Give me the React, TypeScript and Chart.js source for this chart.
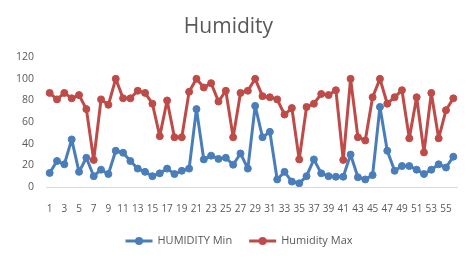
import React, { useEffect, useRef } from 'react';
import { Chart, registerables } from 'chart.js';

Chart.register(...registerables);

const categories = [
  '1', '2', '3', '4', '5', '6', '7', '8', '9', '10',
  '11', '12', '13', '14', '15', '16', '17', '18', '19', '20',
  '21', '22', '23', '24', '25', '26', '27', '28', '29', '30',
  '31', '32', '33', '34', '35', '36', '37', '38', '39', '40',
  '41', '42', '43', '44', '45', '46', '47', '48', '49', '50',
  '51', '52', '53', '54', '55', '56',
];

const humidityMin = [
  13, 24, 21, 44, 14, 27, 10, 16, 12, 33.5,
  31.7, 24, 17, 14, 10, 12.6, 17, 12, 15, 17,
  72, 25.5, 29, 26, 27, 20.6, 31, 17, 75, 46,
  51, 7, 14, 5, 3.4, 10, 25.5, 12.6, 10, 9.5,
  9.5, 30, 9, 7, 11, 74, 33.5, 15, 19.4, 19.4,
  16, 12, 16, 21, 18, 28,
];

const humidityMax = [
  87, 81, 87, 82, 85, 72, 25, 81, 76, 100,
  82, 82, 89, 87, 77, 47, 80, 46, 46, 88,
  100, 92, 96, 79, 89, 46, 87, 89, 100, 84,
  83, 81, 67, 73, 25.5, 74, 77, 86, 85, 89.5,
  25, 100, 46, 43, 83, 100, 77, 83, 89.5, 45,
  83, 32, 87, 45, 71, 82,
];

const seriesNames = ['HUMIDITY Min', 'Humidity Max'];
const chartTitle = 'Humidity';

const BLUE = '#4A7EBB';
const RED = '#BE4B48';
const TEXT = '#595959';
const FONT = '"Open Sans", "DejaVu Sans", sans-serif';

const legendPlugin = {
  id: 'excelLegend',
  afterDraw(chart: any) {
    const ctx = chart.ctx as CanvasRenderingContext2D;
    ctx.save();
    ctx.font = `11px ${FONT}`;
    const lineW = 27;
    const gap = 5;
    const pad = 17;
    const items = chart.data.datasets.map((ds: any) => ({
      text: ds.label as string,
      color: ds.borderColor as string,
    }));
    const widths = items.map((it: any) => lineW + gap + ctx.measureText(it.text).width);
    const total = widths.reduce((a: number, b: number) => a + b, 0) + pad * (items.length - 1);
    let x = (chart.width - total) / 2 + 2;
    const y = 241;
    items.forEach((it: any, i: number) => {
      ctx.strokeStyle = it.color;
      ctx.lineWidth = 3;
      ctx.beginPath();
      ctx.moveTo(x, y);
      ctx.lineTo(x + lineW, y);
      ctx.stroke();
      ctx.fillStyle = it.color;
      ctx.beginPath();
      ctx.arc(x + lineW / 2, y, 4, 0, Math.PI * 2);
      ctx.fill();
      ctx.fillStyle = TEXT;
      ctx.textBaseline = 'middle';
      ctx.textAlign = 'left';
      ctx.fillText(it.text, x + lineW + gap, y);
      x += widths[i] + pad;
    });
    ctx.restore();
  },
};

export default function App() {
  const canvasRef = useRef<HTMLCanvasElement | null>(null);

  useEffect(() => {
    if (!canvasRef.current) return;
    const chart = new Chart(canvasRef.current, {
      type: 'line',
      data: {
        labels: categories,
        datasets: [
          {
            label: seriesNames[0],
            data: humidityMin,
            borderColor: BLUE,
            backgroundColor: BLUE,
            pointBackgroundColor: BLUE,
            pointBorderColor: BLUE,
            borderWidth: 3,
            borderJoinStyle: 'round',
            borderCapStyle: 'round',
            pointRadius: 3.5,
            pointBorderWidth: 1,
            tension: 0,
          },
          {
            label: seriesNames[1],
            data: humidityMax,
            borderColor: RED,
            backgroundColor: RED,
            pointBackgroundColor: RED,
            pointBorderColor: RED,
            borderWidth: 3,
            borderJoinStyle: 'round',
            borderCapStyle: 'round',
            pointRadius: 3.5,
            pointBorderWidth: 1,
            tension: 0,
          },
        ],
      },
      options: {
        animation: false,
        responsive: false,
        devicePixelRatio: 1,
        layout: { padding: { left: 0, right: 17, top: 0, bottom: 0 } },
        plugins: {
          legend: { display: false },
          tooltip: { enabled: false },
          title: {
            display: true,
            text: chartTitle,
            color: TEXT,
            font: { family: FONT, size: 21, weight: 'normal' },
            padding: { top: 14, bottom: 18 },
          },
        },
        scales: {
          x: {
            offset: true,
            grid: { display: false, drawTicks: false },
            border: { display: true, color: '#D9D9D9', width: 1 },
            ticks: {
              autoSkip: false,
              maxRotation: 0,
              minRotation: 0,
              padding: 16,
              color: TEXT,
              font: { family: FONT, size: 10 },
              callback: (_v: any, i: number) => (i % 2 === 0 ? categories[i] : ''),
            },
            afterFit: (s: any) => {
              s.height = 74;
            },
          },
          y: {
            min: 0,
            max: 120,
            ticks: {
              stepSize: 20,
              padding: 12,
              color: TEXT,
              font: { family: FONT, size: 10.5 },
            },
            grid: { display: false, drawTicks: false },
            border: { display: false },
            afterFit: (s: any) => {
              s.width = 46;
            },
          },
        },
      },
      plugins: [legendPlugin],
    });
    return () => chart.destroy();
  }, []);

  return (
    <div style={{ position: 'fixed', left: 0, top: 0, width: 474, height: 261, background: '#fff' }}>
      <canvas ref={canvasRef} width={474} height={261} style={{ width: 474, height: 261, display: 'block' }} />
    </div>
  );
}
